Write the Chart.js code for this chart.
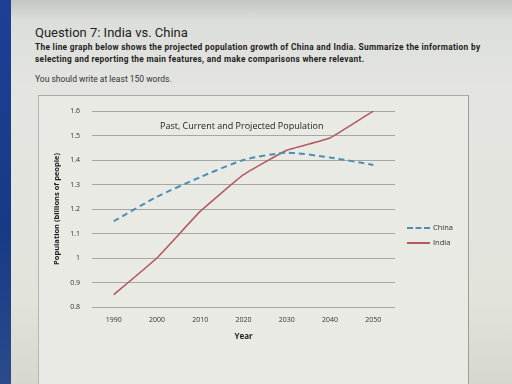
<!DOCTYPE html>
<html>
<head>
<meta charset="utf-8">
<script src="https://cdn.jsdelivr.net/npm/chart.js@4"></script>
<style>
  html, body { margin: 0; padding: 0; }
  body {
    width: 512px; height: 384px; overflow: hidden; position: relative;
    background: linear-gradient(180deg, #c4c6c5 0px, #dcdedb 20px, #e4e5e0 90px, #e2e4dc 300px, #d6d8cf 384px);
    font-family: Roboto, "Noto Sans", sans-serif;
  }
  #stripe { position: absolute; left: 0; top: 0; width: 11px; height: 384px;
    background: linear-gradient(180deg, #1d3f95, #173a86 60%, #2a4a8a); }
  #q { position: absolute; left: 35px; top: 25px; font-size: 13px; color: #222; }
  #p { position: absolute; left: 35px; top: 41px; width: 465px; font-size: 8.3px; letter-spacing: 0.32px; font-weight: bold; color: #202020; line-height: 12px; }
  #w { position: absolute; left: 35px; top: 74px; font-size: 8.5px; color: #333; }
  #box { position: absolute; left: 38px; top: 95px; width: 429px; height: 290px; border-top: 1px solid #a9aaa6; border-left: 1px solid #b5b6b2; border-right: 1px solid #9c9d99; background: #e8eae3; }
  #wrap { position: absolute; left: 38px; top: 92px; width: 470px; height: 270px; }
  #ctitle { position: absolute; left: 160px; top: 119px; font-family: "Open Sans", sans-serif; font-size: 9px; color: #222; }
  .lg { position: absolute; left: 407px; font-family: "Open Sans", sans-serif; font-size: 7.5px; color: #333; }
  .lg span { display: inline-block; width: 23px; vertical-align: middle; margin-right: 3px; }
</style>
</head>
<body>
<div id="stripe"></div>
<div id="q">Question 7: India vs. China</div>
<div id="p">The line graph below shows the projected population growth of China and India. Summarize the information by selecting and reporting the main features, and make comparisons where relevant.</div>
<div id="w">You should write at least 150 words.</div>
<div id="box"></div>
<div id="wrap"><canvas id="chart" width="470" height="270"></canvas></div>
<div id="ctitle">Past, Current and Projected Population</div>
<div class="lg" style="top:222px"><span style="border-top:2px dashed #4a8fb5"></span>China</div>
<div class="lg" style="top:237px"><span style="border-top:2px solid #b35a63"></span>India</div>
<script>
const years = ['1990', '2000', '2010', '2020', '2030', '2040', '2050'];
const china = [1.15, 1.25, 1.33, 1.40, 1.43, 1.41, 1.38];
const india = [0.85, 1.00, 1.19, 1.34, 1.44, 1.49, 1.60];
const yTicks = [0.8, 0.9, 1, 1.1, 1.2, 1.3, 1.4, 1.5, 1.6];

new Chart(document.getElementById('chart'), {
  type: 'line',
  data: {
    labels: years,
    datasets: [
      {
        label: 'China',
        data: china,
        borderColor: '#4a8fb5',
        borderWidth: 2,
        borderDash: [6, 4],
        pointRadius: 0,
        tension: 0.2,
        fill: false
      },
      {
        label: 'India',
        data: india,
        borderColor: '#b35a63',
        borderWidth: 1.6,
        pointRadius: 0,
        tension: 0.1,
        fill: false
      }
    ]
  },
  options: {
    responsive: false,
    animation: false,
    layout: { padding: { left: 14, right: 113, top: 19, bottom: 16 } },
    plugins: {
      legend: { display: false },
      tooltip: { enabled: false }
    },
    scales: {
      x: {
        offset: true,
        grid: { display: false, drawTicks: false },
        border: { display: false },
        ticks: { color: '#333', padding: 9, font: { family: 'Open Sans', size: 7 } },
        title: { display: true, text: 'Year', color: '#222', padding: { top: 2 }, font: { family: 'Open Sans', size: 8, weight: 'bold' } },
        afterFit: (a) => { a.height = 39; }
      },
      y: {
        min: 0.8,
        max: 1.6,
        afterBuildTicks: (a) => { a.ticks = yTicks.map(v => ({ value: v })); },
        grid: { color: '#a4a7a5', lineWidth: 1, drawTicks: false },
        border: { display: false },
        ticks: {
          color: '#333', padding: 12,
          font: { family: 'Open Sans', size: 7 },
          callback: (v) => String(v)
        },
        title: { display: true, text: 'Population (billions of people)', color: '#222', padding: 0, font: { family: 'Open Sans', size: 7.5, weight: 'bold' } },
        afterFit: (a) => { a.width = 40; }
      }
    }
  }
});
</script>
</body>
</html>
